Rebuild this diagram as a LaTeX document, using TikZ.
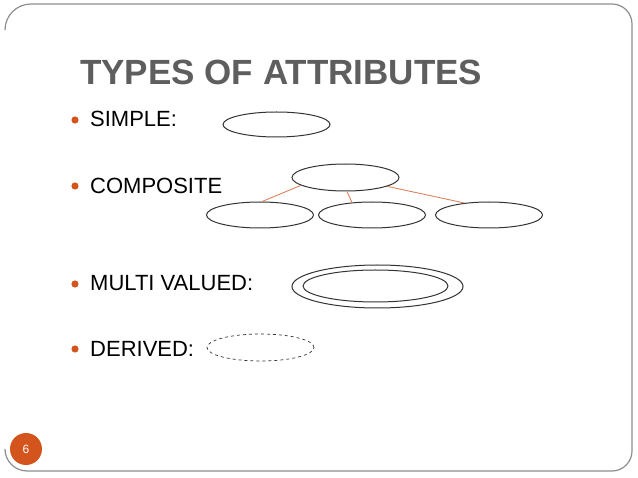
\documentclass[tikz,border=0pt]{standalone}
\usepackage{fontspec}
\setmainfont{Liberation Sans}
\usetikzlibrary{shapes.geometric}
\definecolor{framegray}{HTML}{8E8E8E}
\definecolor{titlegray}{HTML}{5E5E5E}
\definecolor{dotorange}{HTML}{D4541E}
\definecolor{linkorange}{HTML}{D9845E}
\begin{document}
\begin{tikzpicture}[x=1pt, y=-1pt,
		attr/.style={ellipse, draw=black!80, line width=1pt, inner sep=0pt, minimum width=107pt, minimum height=26pt},
		item/.style={anchor=base west, font=\fontsize{22}{26}\selectfont, inner sep=0pt},
		link/.style={linkorange, line width=0.9pt}]
			\useasboundingbox (0, 0) rectangle (638, 478);

			% slide frame
			\draw[framegray, line width=1.2pt]	(5, 30) arc[start angle=180, end angle=270, radius=26] (31, 4)
											-- (612, 4) arc[start angle=-90, end angle=0, radius=20] (632, 24)
											-- (632, 451) arc[start angle=0, end angle=90, radius=20] (612, 471)
											-- (27, 471) arc[start angle=90, end angle=180, radius=22] (5, 449)
											-- cycle;

			\node[anchor=base west, inner sep=0pt, text=titlegray, font=\fontsize{35}{40}\selectfont\bfseries] (title) at (80, 85) {TYPES OF ATTRIBUTES};

			% bullets
			\foreach \y in {120, 186, 284, 349}
				\fill[dotorange] (75, \y) circle (3.6);

			\node[item] (simplelbl) at (90, 127) {SIMPLE:};
			\node[item] (complbl) at (90, 194) {COMPOSITE};
			\node[item] (multilbl) at (90, 291) {MULTI VALUED:};
			\node[item] (derivedlbl) at (90, 357) {DERIVED:};

			% simple
			\node[attr, minimum height=25pt] (simple) at (276.5, 124.5) {};

			% composite
			\node[attr, minimum height=27pt] (comp) at (345.5, 177.5) {};
			\node[attr] (compa) at (260, 215) {};
			\node[attr] (compb) at (372, 215) {};
			\node[attr] (compc) at (489, 215) {};
			\draw[link]	(comp.190) -- (compa.81);
			\draw[link]	(comp.276) -- (compb.148);
			\draw[link]	(comp.-12) -- (compc.154);

			% multi valued
			\node[attr, minimum width=171pt, minimum height=43pt] (multi) at (377.5, 286.5) {};
			\node[attr, minimum width=145pt, minimum height=32pt] (multiin) at (375.5, 286) {};

			% derived
			\node[attr, dashed, line width=0.7pt, minimum height=27pt] (derived) at (260.5, 347.5) {};

			% page number
			\node[circle, fill=dotorange, minimum size=32pt, inner sep=0pt, text=white, font=\fontsize{12}{14}\selectfont] (pagenum) at (26, 449) {6};
		\end{tikzpicture}
\end{document}
